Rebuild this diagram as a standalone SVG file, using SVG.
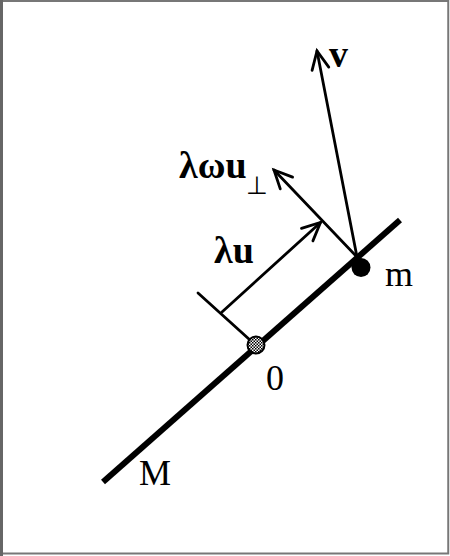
<svg xmlns="http://www.w3.org/2000/svg" width="450" height="556" viewBox="0 0 450 556">
<defs>
<style>
.lbl{font-family:"Liberation Serif","Times New Roman",serif;font-size:36px;fill:#000}
.b{font-weight:bold;font-size:38px}
.vec{stroke:#000;stroke-width:2.8;fill:none;stroke-linecap:round}
</style>
<marker id="ah" markerUnits="userSpaceOnUse" viewBox="-20 -10 22 20" refX="0" refY="0" markerWidth="22" markerHeight="20" orient="auto" overflow="visible">
<path d="M-18,-8.5 L0,0 L-18,8.5" fill="none" stroke="#000" stroke-width="2.8" stroke-linecap="round" stroke-linejoin="miter"/>
</marker>
<pattern id="hatch" patternUnits="userSpaceOnUse" width="3" height="3">
<rect width="3" height="3" fill="#fff"/>
<rect width="1.5" height="1.5" fill="#000"/>
<rect x="1.5" y="1.5" width="1.5" height="1.5" fill="#000"/>
</pattern>
</defs>
<rect x="0" y="0" width="450" height="556" fill="#fff"/>
<rect x="1.25" y="1" width="447" height="552.5" fill="none" stroke="#777" stroke-width="2"/>
<line x1="1.5" y1="0" x2="1.5" y2="556" stroke="#666" stroke-width="3"/>

<g id="connectors">
<line id="rod" x1="103" y1="482" x2="400" y2="220" stroke="#000" stroke-width="6"/>
<line id="tick" x1="198" y1="293" x2="250" y2="340" class="vec"/>
<line id="lu" x1="222" y1="312" x2="320.5" y2="222.5" class="vec" marker-end="url(#ah)"/>
<line id="lwu" x1="357" y1="257" x2="274" y2="170" class="vec" marker-end="url(#ah)"/>
<line id="v" x1="357" y1="257" x2="317" y2="51" class="vec" marker-end="url(#ah)"/>
</g>

<g id="node-origin">
<circle cx="256" cy="345" r="8.5" fill="url(#hatch)" stroke="#000" stroke-width="2"/>
<text class="lbl" x="266" y="390">0</text>
</g>
<g id="node-m">
<circle cx="361" cy="267.5" r="9.5" fill="#000"/>
<text class="lbl" x="385" y="286">m</text>
</g>
<g id="node-M">
<text class="lbl" x="139" y="485">M</text>
</g>
<g id="label-v">
<text class="lbl b" x="329" y="67">v</text>
</g>
<g id="label-lu">
<text class="lbl b" x="214" y="263">λu</text>
</g>
<g id="label-lwu">
<text class="lbl" x="179" y="178"><tspan class="b">λωu</tspan><tspan font-size="25" x="246" y="194">⊥</tspan></text>
</g>
</svg>
